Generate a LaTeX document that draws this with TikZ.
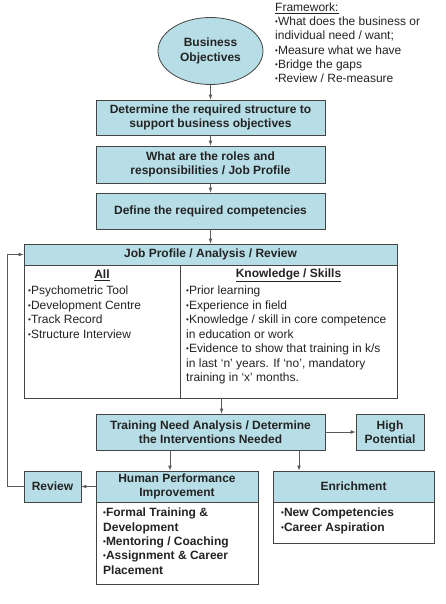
\documentclass[tikz,border=0pt]{standalone}
\usepackage{fontspec}
\setmainfont{Liberation Sans}
\usetikzlibrary{shapes.geometric,positioning}
\definecolor{boxblue}{RGB}{183,222,230}
\definecolor{ink}{RGB}{35,35,35}
\newcommand{\bl}{\raisebox{.15ex}{\fontsize{8}{8}\selectfont•}}

\begin{document}
\begin{tikzpicture}[x=1pt,y=-1pt,
		every node/.style={font=\fontsize{12}{14.5}\selectfont,text=ink,inner sep=0pt},
		tealbox/.style={draw=ink!85,fill=boxblue,line width=.8pt,align=center,font=\fontsize{12}{14.5}\selectfont\bfseries},
		whitebox/.style={draw=ink!85,fill=white,line width=.8pt},
		arr/.style={-latex,line width=.7pt,draw=ink!75}]
		\useasboundingbox (0,0) rectangle (445,604);
		% framework notes
		\node[anchor=north west,align=left,font=\fontsize{12}{14.3}\selectfont] (frame) at (275,2.5) {\underline{Framework:}\\ \bl What does the business or\\individual need / want;\\ \bl Measure what we have\\ \bl Bridge the gaps\\ \bl Review / Re-measure};
		% main column
		\node[ellipse,tealbox,minimum width=105pt,minimum height=67pt] (obj) at (210.5,51) {Business\\Objectives};
		\node[tealbox,minimum width=229pt,minimum height=35pt] (struct) at (210.5,117.5) {Determine the required structure to\\support business objectives};
		\node[tealbox,minimum width=229pt,minimum height=37pt] (roles) at (210.5,164.5) {What are the roles and\\responsibilities / Job Profile};
		\node[tealbox,minimum width=229pt,minimum height=36pt] (comp) at (210.5,211) {Define the required competencies};
		% job profile table
		\node[tealbox,minimum width=373pt,minimum height=21pt] (jphead) at (210.5,254.5) {Job Profile / Analysis / Review};
		\node[whitebox,minimum width=156pt,minimum height=133pt] (jpall) at (102,331.5) {};
		\node[whitebox,minimum width=217pt,minimum height=133pt] (jpks) at (288.5,331.5) {};
		\node[font=\fontsize{12}{14.5}\selectfont\bfseries] (alltitle) at (102,275) {\underline{All}};
		\node[font=\fontsize{12}{14.5}\selectfont\bfseries] (kstitle) at (288.5,275) {\underline{Knowledge / Skills}};
		\node[anchor=north west,align=left] (alllist) at (28,286) {\bl Psychometric Tool\\ \bl Development Centre\\ \bl Track Record\\ \bl Structure Interview};
		\node[anchor=north west,align=left] (kslist) at (186,286) {\bl Prior learning\\ \bl Experience in field\\ \bl Knowledge / skill in core competence\\in education or work\\ \bl Evidence to show that training in k/s\\in last ‘n’ years. If ‘no’, mandatory\\training in ‘x’ months.};
		% lower part
		\node[tealbox,minimum width=229pt,minimum height=36pt] (tna) at (210.5,432) {Training Need Analysis / Determine\\the Interventions Needed};
		\node[tealbox,minimum width=68pt,minimum height=36pt] (hipot) at (390,432) {High\\Potential};
		\node[tealbox,minimum width=57pt,minimum height=31pt] (review) at (52.5,486.5) {Review};
		\node[tealbox,minimum width=162pt,minimum height=31pt] (hpi) at (177,486.5) {Human Performance\\Improvement};
		\node[whitebox,minimum width=162pt,minimum height=82pt,anchor=north] (hpibody) at (hpi.south) {};
		\node[tealbox,minimum width=161pt,minimum height=31pt] (enrich) at (353.5,486.5) {Enrichment};
		\node[whitebox,minimum width=161pt,minimum height=41pt,anchor=north] (enrichbody) at (enrich.south) {};
		\node[anchor=north west,align=left,font=\fontsize{12}{14.3}\selectfont\bfseries] (hpilist) at (103,508) {\bl Formal Training \&\\Development\\ \bl Mentoring / Coaching\\ \bl Assignment \& Career\\Placement};
		\node[anchor=north west,align=left,font=\fontsize{12}{14.3}\selectfont\bfseries] (enrichlist) at (281,508) {\bl New Competencies\\ \bl Career Aspiration};
		% connectors
		\draw[arr](obj)--(struct);
		\draw[arr](struct)--(roles);
		\draw[arr](roles)--(comp);
		\draw[arr](comp)--(jphead);
		\coordinate (jpout) at ([xshift=42pt]jpks.south west);
		\draw[arr](jpout)--(jpout|-tna.north);
		\draw[arr](tna)--(hipot);
		\coordinate (tohpi) at ([xshift=-40.5pt]tna.south);
		\draw[arr](tohpi)--(tohpi|-hpi.north);
		\coordinate (toenr) at ([xshift=88.5pt]tna.south);
		\draw[arr](toenr)--(toenr|-enrich.north);
		\draw[arr](hpi)--(review);
		\draw[arr](review.west)--++(-16,0)|-(jphead.west);
	\end{tikzpicture}
\end{document}
